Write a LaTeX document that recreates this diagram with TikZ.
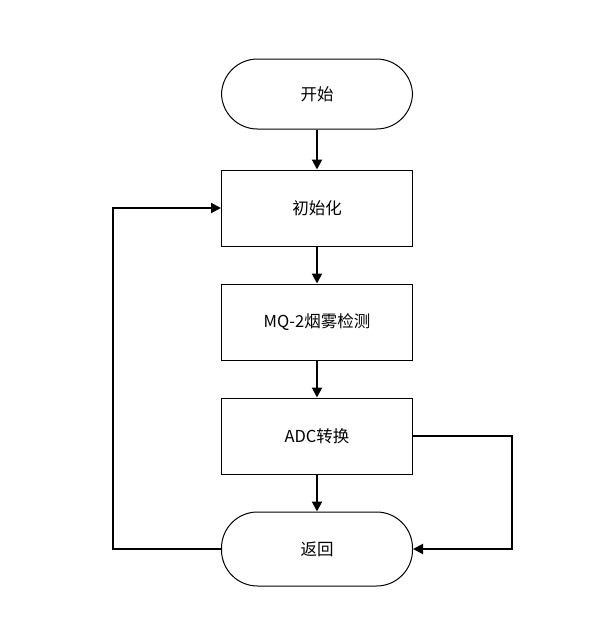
\documentclass[tikz,border=0pt]{standalone}
\usepackage{fontspec}
\setmainfont{Noto Sans CJK SC}
\usetikzlibrary{arrows.meta}
\begin{document}
\begin{tikzpicture}[x=1pt,y=-1pt,
  box/.style={draw=black,line width=1pt,minimum width=191pt,minimum height=76pt,font=\fontsize{16.5}{19}\selectfont,inner sep=0pt},
  term/.style={box,rounded corners=36pt,minimum height=70pt},
  conn/.style={line width=2pt,-{Triangle[length=10pt,width=10pt]}}]
\useasboundingbox (0,0) rectangle (611,633);
\node[term] (start) at (317,94) {开始};
\node[box] (init) at (317,208) {初始化};
\node[box] (mq) at (317,322) {MQ-2烟雾检测};
\node[box] (adc) at (317,436) {ADC转换};
\node[term,minimum height=74pt] (ret) at (317,549) {返回};
\draw[conn] (start) -- (init);
\draw[conn] (init) -- (mq);
\draw[conn] (mq) -- (adc);
\draw[conn] (adc) -- (ret);
\draw[conn] (ret.west) -- (113,549) -- (113,208) -- (init.west);
\draw[conn] (adc.east) -- (512,436) -- (512,549) -- (ret.east);
\end{tikzpicture}
\end{document}
